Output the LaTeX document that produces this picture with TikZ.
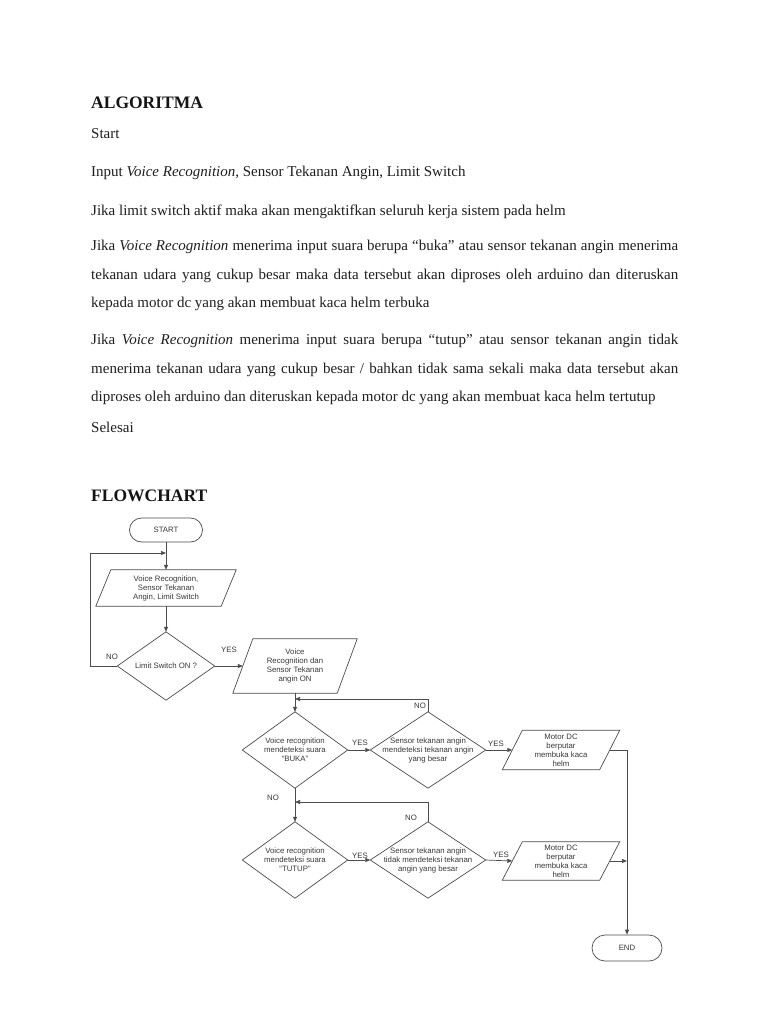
\documentclass[tikz,border=0pt]{standalone}
\usepackage{fontspec}
\setmainfont{Liberation Serif}
\newfontfamily\fcfont{Liberation Sans}
\usetikzlibrary{arrows.meta,calc}
\begin{document}
\begin{tikzpicture}[x=1pt,y=-1pt,
  body/.style={anchor=base west, inner sep=0pt, font=\fontsize{15}{18}\selectfont, text=black!88},
  head/.style={anchor=base west, inner sep=0pt, font=\fontsize{17.5}{20}\selectfont\bfseries, text=black!92},
  lbl/.style={font=\fcfont\fontsize{7.8}{9}\selectfont, text=black!78, inner sep=0pt, align=center},
  fc/.style={draw=black!70, line width=0.7pt},
  arr/.style={fc, -{Triangle[length=5pt,width=4pt]}},
  term/.style={lbl, draw=black!70, line width=0.7pt, rounded corners=12pt, minimum width=73pt, minimum height=24pt},
]
\useasboundingbox (0,0) rectangle (768,1024);
\fill[white] (0,0) rectangle (768,1024);

% ---------- text ----------
\node[head] (h1) at (91,109) {ALGORITMA};
\node[body] (t1) at (91,139) {Start};
\node[body] (t2) at (91,177) {Input \textit{Voice Recognition}, Sensor Tekanan Angin, Limit Switch};
\node[body] (t3) at (91,215) {Jika limit switch aktif maka akan mengaktifkan seluruh kerja sistem pada helm};
\node[body] (t4) at (91,250) {\makebox[587pt][s]{Jika \textit{Voice Recognition} menerima input suara berupa “buka” atau sensor tekanan angin menerima}};
\node[body] (t5) at (91,279) {\makebox[587pt][s]{tekanan udara yang cukup besar maka data tersebut akan diproses oleh arduino dan diteruskan}};
\node[body] (t6) at (91,307) {kepada motor dc yang akan membuat kaca helm terbuka};
\node[body] (t7) at (91,344) {\makebox[587pt][s]{Jika \textit{Voice Recognition} menerima input suara berupa “tutup” atau sensor tekanan angin tidak}};
\node[body] (t8) at (91,373) {\makebox[587pt][s]{menerima tekanan udara yang cukup besar / bahkan tidak sama sekali maka data tersebut akan}};
\node[body] (t9) at (91,401) {diproses oleh arduino dan diteruskan kepada motor dc yang akan membuat kaca helm tertutup};
\node[body] (t10) at (91,432) {Selesai};
\node[head] (h2) at (91,501) {FLOWCHART};

% ---------- flowchart shapes ----------
\node[term] (start) at (166,530) {START};

\node[lbl, minimum width=125pt, minimum height=36pt] (p1) at (166,588) {Voice Recognition,\\Sensor Tekanan\\Angin, Limit Switch};
\draw[fc] ($(p1.north west)+(7.5,0)$) -- ($(p1.north east)+(7.5,0)$) -- ($(p1.south east)+(-7.5,0)$) -- ($(p1.south west)+(-7.5,0)$) -- cycle;

\node[lbl, minimum width=97pt, minimum height=68pt] (d1) at (166,666) {Limit Switch ON ?};
\draw[fc] (d1.north) -- (d1.east) -- (d1.south) -- (d1.west) -- cycle;

\node[lbl, minimum width=104pt, minimum height=54pt] (p2) at (295,666) {Voice\\Recognition dan\\Sensor Tekanan\\angin ON};
\draw[fc] ($(p2.north west)+(10,0)$) -- ($(p2.north east)+(10,0)$) -- ($(p2.south east)+(-10,0)$) -- ($(p2.south west)+(-10,0)$) -- cycle;

\node[lbl, minimum width=105pt, minimum height=76pt] (d2) at (295,750) {Voice recognition\\mendeteksi suara\\“BUKA”};
\draw[fc] (d2.north) -- (d2.east) -- (d2.south) -- (d2.west) -- cycle;

\node[lbl, minimum width=115pt, minimum height=76pt] (d3) at (428,750) {Sensor tekanan angin\\mendeteksi tekanan angin\\yang besar};
\draw[fc] (d3.north) -- (d3.east) -- (d3.south) -- (d3.west) -- cycle;

\node[lbl, minimum width=97pt, minimum height=39pt] (p3) at (561,750) {Motor DC\\berputar\\membuka kaca\\helm};
\draw[fc] ($(p3.north west)+(10,0)$) -- ($(p3.north east)+(10,0)$) -- ($(p3.south east)+(-10,0)$) -- ($(p3.south west)+(-10,0)$) -- cycle;

\node[lbl, minimum width=105pt, minimum height=76pt] (d4) at (295,860) {Voice recognition\\mendeteksi suara\\“TUTUP”};
\draw[fc] (d4.north) -- (d4.east) -- (d4.south) -- (d4.west) -- cycle;

\node[lbl, minimum width=115pt, minimum height=76pt] (d5) at (428,860) {Sensor tekanan angin\\tidak mendeteksi tekanan\\angin yang besar};
\draw[fc] (d5.north) -- (d5.east) -- (d5.south) -- (d5.west) -- cycle;

\node[lbl, minimum width=97pt, minimum height=38pt] (p4) at (561,861) {Motor DC\\berputar\\membuka kaca\\helm};
\draw[fc] ($(p4.north west)+(10,0)$) -- ($(p4.north east)+(10,0)$) -- ($(p4.south east)+(-10,0)$) -- ($(p4.south west)+(-10,0)$) -- cycle;

\node[term, minimum width=70pt, minimum height=26pt, rounded corners=13pt] (end) at (627,948) {END};

% ---------- junctions ----------
\coordinate (j1) at (166,553);
\coordinate (lp) at (90,553);
\coordinate (j2) at (295,699);
\coordinate (j3) at (295,802);
\coordinate (c1) at (627,750);
\coordinate (c2) at (627,861);

% ---------- connectors ----------
\draw[arr] (start) -- (p1);
\draw[arr] (d1.west) -| (lp) -- (j1);
\draw[arr] (p1) -- (d1);
\draw[arr] (d1.east) -- (p2.west);
\draw[arr] (p2) -- (d2);
\draw[arr] (d3.north) |- (j2);
\draw[arr] (d2.east) -- (d3.west);
\draw[arr] (d3.east) -- (p3.west);
\draw[arr] (p3.east) -- (c1) -- (end);
\draw[arr] (d2.south) -- (d4.north);
\draw[arr] (d5.north) |- (j3);
\draw[arr] (d4.east) -- (d5.west);
\draw[arr] (d5.east) -- (p4.west);
\draw[arr] (p4.east) -- (c2);

% ---------- labels ----------
\node[lbl] (no1) at (112,657) {NO};
\node[lbl] (yes1) at (229,650) {YES};
\node[lbl] (no2) at (420,706) {NO};
\node[lbl] (yes2) at (360,743) {YES};
\node[lbl] (yes3) at (496,744) {YES};
\node[lbl] (no3) at (273,798) {NO};
\node[lbl] (no4) at (411,818) {NO};
\node[lbl] (yes4) at (360,856) {YES};
\node[lbl] (yes5) at (501,855) {YES};
\end{tikzpicture}
\end{document}
